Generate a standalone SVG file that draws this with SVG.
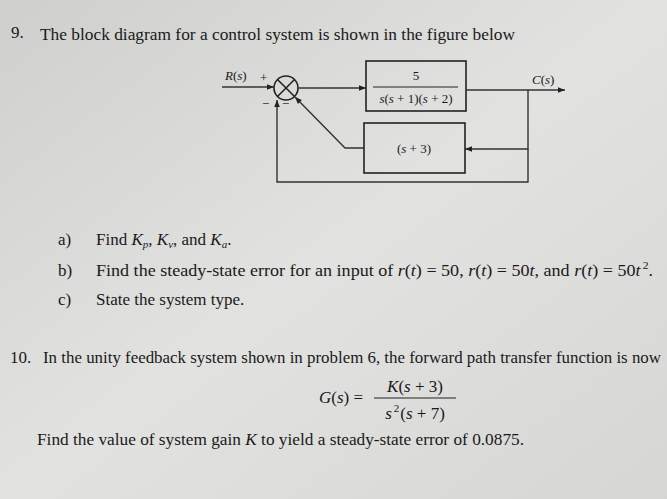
<svg xmlns="http://www.w3.org/2000/svg" width="667" height="499" viewBox="0 0 667 499">
<defs>
<marker id="ar" viewBox="0 0 10 10" refX="10" refY="5" markerWidth="9" markerHeight="7" orient="auto" markerUnits="userSpaceOnUse"><path d="M0,1 L10,5 L0,9 z" fill="#222"/></marker>
<linearGradient id="bg" x1="0" y1="0" x2="1" y2="1"><stop offset="0" stop-color="#cfcfcd"/><stop offset="0.5" stop-color="#e2e2e0"/><stop offset="1" stop-color="#d6d6d4"/></linearGradient>
</defs>
<style>
text{font-family:"Liberation Serif",serif;fill:#1a1a1a}
.t{font-size:17px}
.d{font-size:13px}
.i{font-style:italic}
.b{fill:none;stroke:#222;stroke-width:1.6}
.w{fill:none;stroke:#333;stroke-width:1.4}
</style>
<rect width="667" height="499" fill="url(#bg)"/>
<text class="t" x="11" y="38">9.</text>
<text class="t" x="40" y="40" textLength="475" lengthAdjust="spacingAndGlyphs">The block diagram for a control system is shown in the figure below</text>
<g id="sum"><circle cx="286" cy="88" r="12" class="b"/><path d="M277.5,79.5 L294.5,96.5 M294.5,79.5 L277.5,96.5" class="b"/>
<text class="d" x="260" y="82">+</text><text class="d" x="262" y="108">−</text><text class="d" x="282" y="108">−</text></g>
<text class="d" x="225" y="80"><tspan class="i">R</tspan>(<tspan class="i">s</tspan>)</text>
<g id="G"><rect x="366" y="61" width="100" height="50" class="b"/>
<text class="d" x="416" y="80" text-anchor="middle">5</text>
<line x1="373" y1="87" x2="458" y2="87" stroke="#222" stroke-width="1"/>
<text class="d" x="416" y="103" text-anchor="middle"><tspan class="i">s</tspan>(<tspan class="i">s</tspan> + 1)(<tspan class="i">s</tspan> + 2)</text></g>
<g id="H"><rect x="364" y="123" width="101" height="50" class="b"/>
<text class="d" x="414" y="153" text-anchor="middle">(<tspan class="i">s</tspan> + 3)</text></g>
<text class="d" x="532" y="84"><tspan class="i">C</tspan>(<tspan class="i">s</tspan>)</text>
<g id="connectors">
<line x1="222" y1="87" x2="274" y2="87" class="w" marker-end="url(#ar)"/>
<line x1="298" y1="88" x2="366" y2="88" class="w" marker-end="url(#ar)"/>
<line x1="466" y1="90" x2="565" y2="90" class="w" marker-end="url(#ar)"/>
<polyline points="528,90 528,149 465,149" class="w" marker-end="url(#ar)"/>
<polyline points="364,148 345,148 295,97" class="w" marker-end="url(#ar)"/>
<polyline points="528,149 528,182 277,182 277,100" class="w" marker-end="url(#ar)"/>
</g>
<text class="t" x="58" y="245">a)</text>
<text class="t" x="96" y="245">Find <tspan class="i">K<tspan font-size="11" dy="3">p</tspan></tspan><tspan dy="-3">, </tspan><tspan class="i">K<tspan font-size="11" dy="3">v</tspan></tspan><tspan dy="-3">, and </tspan><tspan class="i">K<tspan font-size="11" dy="3">a</tspan></tspan><tspan dy="-3">.</tspan></text>
<text class="t" x="58" y="276">b)</text>
<text class="t" x="96" y="276" textLength="557" lengthAdjust="spacingAndGlyphs">Find the steady-state error for an input of <tspan class="i">r</tspan>(<tspan class="i">t</tspan>) = 50, <tspan class="i">r</tspan>(<tspan class="i">t</tspan>) = 50<tspan class="i">t</tspan>, and <tspan class="i">r</tspan>(<tspan class="i">t</tspan>) = 50<tspan class="i">t</tspan><tspan font-size="11" dx="2" dy="-7">2</tspan><tspan dy="7">.</tspan></text>
<text class="t" x="58" y="305">c)</text>
<text class="t" x="96" y="305">State the system type.</text>
<text class="t" x="10" y="363">10.</text>
<text class="t" x="43" y="363" textLength="618" lengthAdjust="spacingAndGlyphs">In the unity feedback system shown in problem 6, the forward path transfer function is now</text>
<text class="t" x="319" y="403"><tspan class="i">G</tspan>(<tspan class="i">s</tspan>) =</text>
<text class="t" x="415" y="392" text-anchor="middle"><tspan class="i">K</tspan>(<tspan class="i">s</tspan> + 3)</text>
<line x1="374" y1="398" x2="456" y2="398" stroke="#222" stroke-width="1.1"/>
<text class="t" x="415" y="419" text-anchor="middle"><tspan class="i">s</tspan><tspan font-size="11" dx="2" dy="-7">2</tspan><tspan dx="1" dy="7">(</tspan><tspan class="i">s</tspan> + 7)</text>
<text class="t" x="37" y="445" textLength="487" lengthAdjust="spacingAndGlyphs">Find the value of system gain <tspan class="i">K</tspan> to yield a steady-state error of 0.0875.</text>
</svg>
